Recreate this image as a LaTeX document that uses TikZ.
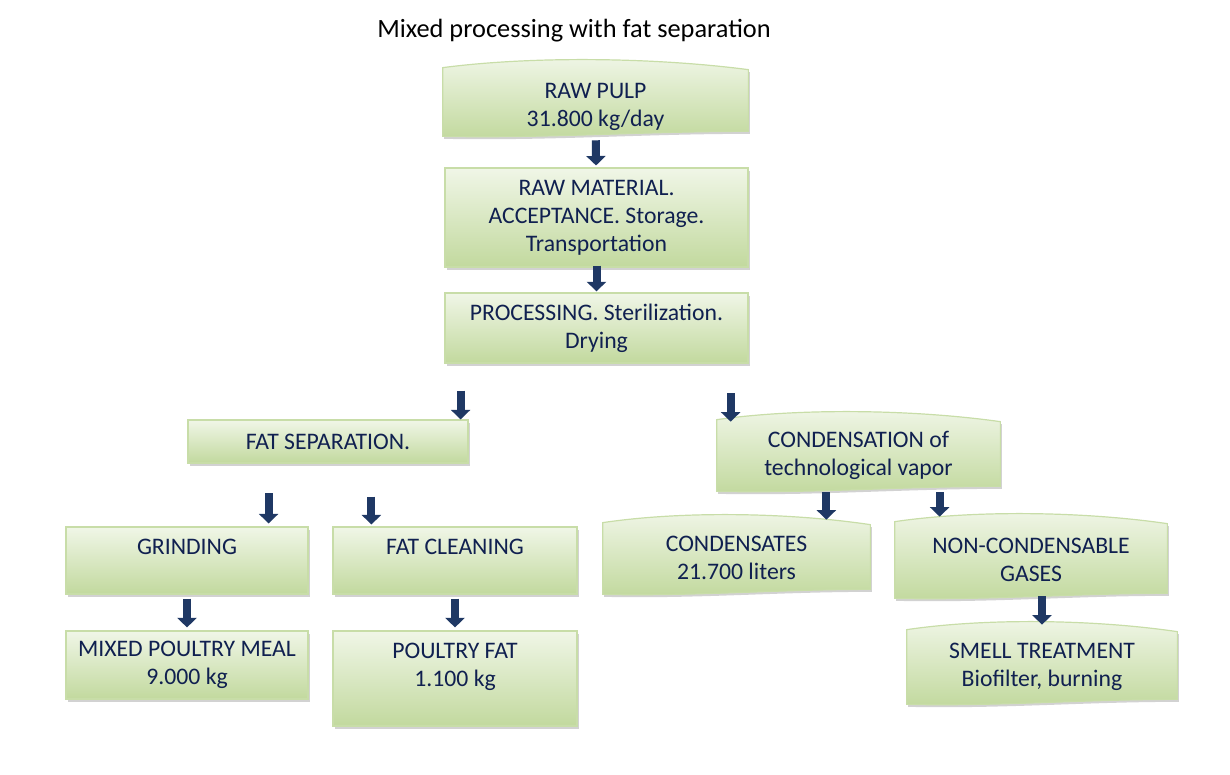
\documentclass[tikz,border=0pt]{standalone}
\usepackage{fontspec}
\setmainfont{Carlito}
\usetikzlibrary{arrows.meta,calc,shadows,backgrounds}

\newlength\px
\setlength\px{0.02cm}

\definecolor{navytext}{RGB}{16,32,80}
\definecolor{arrowblue}{RGB}{31,56,100}
\definecolor{boxtop}{RGB}{240,246,231}
\definecolor{boxbottom}{RGB}{194,217,158}
\definecolor{boxedge}{RGB}{200,221,168}

\tikzset{
    boxshade/.style={
        top color=boxtop,
        bottom color=boxbottom,
        draw=boxedge,
        line width=1.2\px,
        drop shadow={shadow xshift=1.5\px, shadow yshift=-2.5\px,
                     opacity=0.25, fill=black!70}
    },
    stagetext/.style={
        rectangle,
        align=center,
        inner sep=0pt,
        text=navytext,
        font=\fontsize{13.5}{15.9}\selectfont
    },
    stage/.style={stagetext, boxshade},
    wavystage/.style={stagetext},
    flow/.style={
        draw=arrowblue,
        line width=8\px,
        -{Triangle[width=10.8pt, length=5.4pt]}
    }
}

% curved top edge for the wavy boxes (#2: extra rise above the node)
\newcommand\wavyfill[2]{%
    \path[boxshade]
        ($(#1.north west)+(0,-#2)$)
        .. controls ($(#1.north west)!.3!(#1.north east)+(0,-12-#2)$)
                and ($(#1.north west)!.7!(#1.north east)+(0,-10-#2)$)
        .. ($(#1.north east)+(0,2-#2)$)
        -- ($(#1.south east)+(0,-4)$)
        .. controls ($(#1.south west)!.65!(#1.south east)+(0,-4)$)
                and ($(#1.south west)!.35!(#1.south east)+(0,3)$)
        .. ($(#1.south west)+(0,1)$)
        -- cycle;}

\begin{document}
\begin{tikzpicture}[x=0.02cm, y=-0.02cm]
    \useasboundingbox (0,0) rectangle (1230,774);

    % Title
    \node[font=\fontsize{15}{18}\selectfont] (title) at (574,31)
        {Mixed processing with fat separation};

    % Main line
    \node[wavystage, minimum width=305\px, minimum height=57\px]
        (raw) at (595.5,106.5) {RAW PULP\\31.800 kg/day};
    \node[stage, minimum width=303\px, minimum height=99\px]
        (mat) at (596.5,217.5) {RAW MATERIAL.\\ACCEPTANCE. Storage.\\Transportation};
    \node[stage, minimum width=303\px, minimum height=70\px]
        (proc) at (596.5,328) {PROCESSING. Sterilization.\\Drying};

    % Left branch
    \node[stage, minimum width=280\px, minimum height=43\px]
        (sep) at (328,441.5) {FAT SEPARATION.};
    \node[stage, minimum width=242\px, minimum height=67\px]
        (grind) at (187,560.5) {GRINDING\\~};
    \node[stage, minimum width=244\px, minimum height=67\px]
        (clean) at (455,560.5) {FAT CLEANING\\~};
    \node[stage, minimum width=242\px, minimum height=68\px]
        (meal) at (187,665) {MIXED POULTRY MEAL\\9.000 kg};
    \node[stage, minimum width=244\px, minimum height=95\px]
        (pfat) at (455,678.5) {POULTRY FAT\\1.100 kg\\~};

    % Right branch
    \node[wavystage, minimum width=283\px, minimum height=70\px]
        (cond) at (858.5,455) {CONDENSATION of\\technological vapor};
    \node[wavystage, minimum width=267\px, minimum height=70\px]
        (cnds) at (736.5,558) {CONDENSATES\\21.700 liters};
    \node[wavystage, minimum width=272\px, minimum height=75\px]
        (gas) at (1031,559.5) {NON-CONDENSABLE\\GASES};
    \node[wavystage, minimum width=270\px, minimum height=73\px]
        (smell) at (1042,666.5) {SMELL TREATMENT\\Biofilter, burning};

    \begin{scope}[on background layer]
        \wavyfill{raw}{10}
        \wavyfill{cond}{0}
        \wavyfill{cnds}{0}
        \wavyfill{gas}{0}
        \wavyfill{smell}{0}
    \end{scope}

    % Arrow positions
    \coordinate (a1) at ($(sep.north east)+(-8,0)$);
    \coordinate (a2) at ($(cond.north west)+(14,2)$);
    \coordinate (a3) at ($(grind.north east)+(-40,0)$);
    \coordinate (a4) at ($(clean.north west)+(39,0)$);
    \coordinate (a5) at ($(cnds.north east)+(-44,-3)$);
    \coordinate (a6) at ($(gas.north west)+(45,-5)$);
    \coordinate (a7) at ($(smell.north)+(0,-5)$);

    % Arrows
    \draw[flow, shorten <=2.8pt, shorten >=1.1pt] (raw) -- (mat);
    \draw[flow, shorten <=-1.1pt, shorten >=0.6pt] (mat) -- (proc);
    \draw[flow, shorten <=15.4pt] (proc.south -| a1) -- (a1);
    \draw[flow, shorten <=17pt] (proc.south -| a2) -- (a2);
    \draw[flow, shorten <=17pt, shorten >=1.7pt] (sep.south -| a3) -- (a3);
    \draw[flow, shorten <=18.8pt, shorten >=1.1pt] (sep.south -| a4) -- (a4);
    \draw[flow, shorten <=1.1pt] (cond.south -| a5) -- (a5);
    \draw[flow, shorten <=1.1pt] (cond.south -| a6) -- (a6);
    \draw[flow, shorten <=2.3pt, shorten >=1.7pt] (grind) -- (meal);
    \draw[flow, shorten <=2.3pt, shorten >=1.7pt] (clean) -- (pfat);
    \draw[flow, shorten <=-0.6pt] (gas.south -| a7) -- (a7);

\end{tikzpicture}
\end{document}
